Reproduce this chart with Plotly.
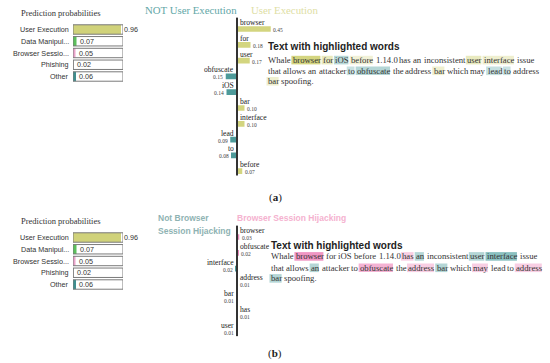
import plotly.graph_objects as go

W, H = 550, 363

# ---------------- data ----------------
prob_labels = ["User Execution", "Data Manipul...", "Browser Sessio...", "Phishing", "Other"]
prob_values = [0.96, 0.07, 0.05, 0.02, 0.06]
prob_colors = ["#d0d27a", "#5cbf5c", "#eba3cb", "#9a9a9a", "#3f8f8f"]

a_words = ["browser", "for", "user", "obfuscate", "iOS", "bar", "interface", "lead", "to", "before"]
a_weights = [0.45, 0.18, 0.17, -0.15, -0.14, 0.10, 0.10, -0.09, -0.08, 0.07]
a_neg_title, a_pos_title = "NOT User Execution", "User Execution"

b_words = ["browser", "obfuscate", "interface", "address", "bar", "has", "user"]
b_weights = [0.03, 0.02, -0.02, 0.01, -0.01, 0.01, -0.01]
b_extra_words = ["an", "may"]
b_extra_weights = [-0.01, 0.01]
b_neg_title = ["Not Browser", "Session Hijacking"]
b_pos_title = "Browser Session Hijacking"

text_title = "Text with highlighted words"
text_lines = [
    "Whale browser for iOS before 1.14.0 has an inconsistent user interface issue",
    "that allows an attacker to obfuscate the address bar which may lead to address",
    "bar spoofing.",
]

# ---------------- styles ----------------
YEL = (212, 213, 128)
TEAL = (95, 168, 168)
PINK = (240, 150, 195)
YEL_BAR = "#d3d57f"
TEAL_BAR = "#4d9a9a"
PINK_BAR = "#e98cbd"

SERIF = "Liberation Serif, Times New Roman, serif"
SANS = "Liberation Sans, Arial, sans-serif"
LAYOUT_FS = 8.7   # size used to space the words as in the reference
TEXT_FS = 8.7     # rendered size

def px(x):
    return x / W

def py(y):
    return 1 - y / H

fig = go.Figure()
annotations = []
shapes = []
layout_axes = {}

ROWP = 11.75  # prob chart row pitch


def add_probs(k, title_y, row0):
    n = len(prob_values)
    xa, ya = f"x{k}", f"y{k}"
    layout_axes[f"xaxis{k}"] = dict(domain=[px(73), px(123)], range=[0, 1], visible=False,
                                    fixedrange=True, anchor=ya)
    layout_axes[f"yaxis{k}"] = dict(domain=[py(row0 + (n - 1) * ROWP + ROWP / 2), py(row0 - ROWP / 2)],
                                    range=[n - 0.5, -0.5], visible=False, fixedrange=True, anchor=xa)
    ys = list(range(n))
    fig.add_trace(go.Bar(x=prob_values, y=ys, orientation="h", width=0.8,
                         marker=dict(color=prob_colors, line=dict(width=0)),
                         xaxis=xa, yaxis=ya, hoverinfo="skip"))
    fig.add_trace(go.Bar(x=[1] * n, y=ys, orientation="h", width=0.8,
                         marker=dict(color="rgba(0,0,0,0)", line=dict(color="#7a7a7a", width=1)),
                         xaxis=xa, yaxis=ya, hoverinfo="skip"))
    for i, (lab, v) in enumerate(zip(prob_labels, prob_values)):
        annotations.append(dict(x=0, y=i, xref=xa, yref=ya, text=lab, showarrow=False,
                                xanchor="right", yanchor="middle", xshift=-3, borderpad=0,
                                font=dict(family=SANS, size=7.2, color="#333")))
        annotations.append(dict(x=v, y=i, xref=xa, yref=ya, text=f"{v:.2f}", showarrow=False,
                                xanchor="left", yanchor="middle", xshift=2, borderpad=0,
                                font=dict(family=SANS, size=7.2, color="#333")))
    annotations.append(dict(x=px(61), y=py(title_y), xref="paper", yref="paper",
                            text="Prediction probabilities", showarrow=False,
                            xanchor="center", yanchor="middle",
                            font=dict(family=SERIF, size=8.5, color="#333")))


ROWE = 15.8  # explanation row pitch


def add_expl(k, words, weights, row0, pos_col, neg_col):
    n = len(words)
    xa, ya = f"x{k}", f"y{k}"
    top, bot = -0.75, n - 1 + 0.3
    layout_axes[f"xaxis{k}"] = dict(domain=[px(237 - 45), px(237 + 45)], range=[-0.6, 0.6],
                                    visible=False, fixedrange=True, anchor=ya)
    layout_axes[f"yaxis{k}"] = dict(domain=[py(row0 + bot * ROWE), py(row0 + top * ROWE)],
                                    range=[bot, top], visible=False, fixedrange=True, anchor=xa)
    ys = list(range(n))
    fig.add_trace(go.Bar(x=weights, y=ys, orientation="h", width=0.36,
                         marker=dict(color=[pos_col if w > 0 else neg_col for w in weights],
                                     line=dict(width=0)),
                         xaxis=xa, yaxis=ya, hoverinfo="skip"))
    shapes.append(dict(type="line", xref=xa, yref=ya, x0=0, x1=0, y0=-0.72, y1=n - 1 + 0.28,
                       line=dict(color="#333", width=2)))
    for i, (wd, w) in enumerate(zip(words, weights)):
        side = "left" if w > 0 else "right"
        sgn = 1 if w > 0 else -1
        annotations.append(dict(x=0, y=i, xref=xa, yref=ya, text=wd, showarrow=False,
                                xanchor=side, yanchor="middle", xshift=2 * sgn, yshift=6.5,
                                borderpad=0, font=dict(family=SERIF, size=7.6, color="#222")))
        annotations.append(dict(x=w, y=i, xref=xa, yref=ya, text=f"{abs(w):.2f}", showarrow=False,
                                xanchor=side, yanchor="middle", xshift=1.5 * sgn, yshift=-1,
                                borderpad=0, font=dict(family=SERIF, size=5.5, color="#444")))


# Times metrics (per 1000 em)
TW = dict(a=444, b=500, c=444, d=500, e=444, f=333, g=500, h=500, i=278, j=278, k=500, l=278,
          m=778, n=500, o=500, p=500, q=500, r=333, s=389, t=278, u=500, v=500, w=722, x=500,
          y=500, z=444, W=944, I=333, O=722, S=556)
TW.update({str(d): 500 for d in range(10)})
TW.update({".": 250, " ": 250})


def tw(s, fs):
    return sum(TW.get(c, 500) for c in s) * fs / 1000.0


def add_text(x0, title_y, line_ys, weights_map, pos_rgb, neg_rgb):
    annotations.append(dict(x=px(x0), y=py(title_y), xref="paper", yref="paper", text=f"<b>{text_title}</b>",
                            showarrow=False, xanchor="left", yanchor="middle", borderpad=0,
                            font=dict(family=SANS, size=10, color="#222")))
    fs = LAYOUT_FS
    mx = max(abs(v) for v in weights_map.values())
    for line, yc in zip(text_lines, line_ys):
        pos = 0.0
        for tok in line.split(" "):
            xs = x0 + pos
            annotations.append(dict(x=px(xs), y=py(yc), xref="paper", yref="paper", text=tok,
                                    showarrow=False, xanchor="left", yanchor="middle", borderpad=0,
                                    font=dict(family=SERIF, size=TEXT_FS, color="#333")))
            word = tok.rstrip(".")
            if word in weights_map:
                w = weights_map[word]
                rel = abs(w) / mx
                op = min(1.0, 0.2 + 0.8 * rel)
                r, g, b = pos_rgb if w > 0 else neg_rgb
                xe = xs + tw(word, fs)
                shapes.append(dict(type="rect", xref="paper", yref="paper", layer="below",
                                   x0=px(xs - 0.5), x1=px(xe + 0.5), y0=py(yc + 4.4), y1=py(yc - 4.2),
                                   fillcolor=f"rgba({r},{g},{b},{op:.2f})", line=dict(width=0)))
            pos += tw(tok + " ", fs)


# ----- panel (a) -----
add_probs(1, 13, 29.5)
add_expl(2, a_words, a_weights, 29, YEL_BAR, TEAL_BAR)
add_text(267, 46.7, [60, 70.7, 81.2], dict(zip(a_words, a_weights)), YEL, TEAL)
annotations.append(dict(x=px(144), y=py(10), xref="paper", yref="paper", text=a_neg_title,
                        showarrow=False, xanchor="left", yanchor="middle", borderpad=0,
                        font=dict(family=SERIF, size=10.8, color="#62a7a7")))
annotations.append(dict(x=px(250), y=py(10), xref="paper", yref="paper", text=a_pos_title,
                        showarrow=False, xanchor="left", yanchor="middle", borderpad=0,
                        font=dict(family=SERIF, size=10.8, color="#dedea4")))
annotations.append(dict(x=px(275), y=py(198), xref="paper", yref="paper", text="(<b>a</b>)",
                        showarrow=False, xanchor="center", yanchor="middle",
                        font=dict(family=SERIF, size=11, color="#222")))

# ----- panel (b) -----
add_probs(3, 221, 237.5)
add_expl(4, b_words, b_weights, 237, PINK_BAR, TEAL_BAR)
bmap = dict(zip(b_words, b_weights))
bmap.update(dict(zip(b_extra_words, b_extra_weights)))
add_text(270, 245, [256.3, 267.7, 278.3], bmap, PINK, TEAL)
for t, yy in zip(b_neg_title, [218, 231]):
    annotations.append(dict(x=px(157), y=py(yy), xref="paper", yref="paper", text=f"<b>{t}</b>",
                            showarrow=False, xanchor="left", yanchor="middle", borderpad=0,
                            font=dict(family=SANS, size=8.5, color="#8fb3b3")))
annotations.append(dict(x=px(236), y=py(218), xref="paper", yref="paper", text=f"<b>{b_pos_title}</b>",
                        showarrow=False, xanchor="left", yanchor="middle", borderpad=0,
                        font=dict(family=SANS, size=8.5, color="#f5b2cf")))
annotations.append(dict(x=px(275), y=py(353), xref="paper", yref="paper", text="(<b>b</b>)",
                        showarrow=False, xanchor="center", yanchor="middle",
                        font=dict(family=SERIF, size=11, color="#222")))

fig.update_layout(
    width=W, height=H, margin=dict(l=0, r=0, t=0, b=0),
    paper_bgcolor="white", plot_bgcolor="rgba(0,0,0,0)",
    showlegend=False, barmode="overlay",
    annotations=annotations, shapes=shapes,
    **layout_axes,
)

fig.write_html("out.html", config={"displayModeBar": False},
               post_script="document.body.style.margin='0px';document.body.style.padding='0px';document.body.style.overflow='hidden';")
